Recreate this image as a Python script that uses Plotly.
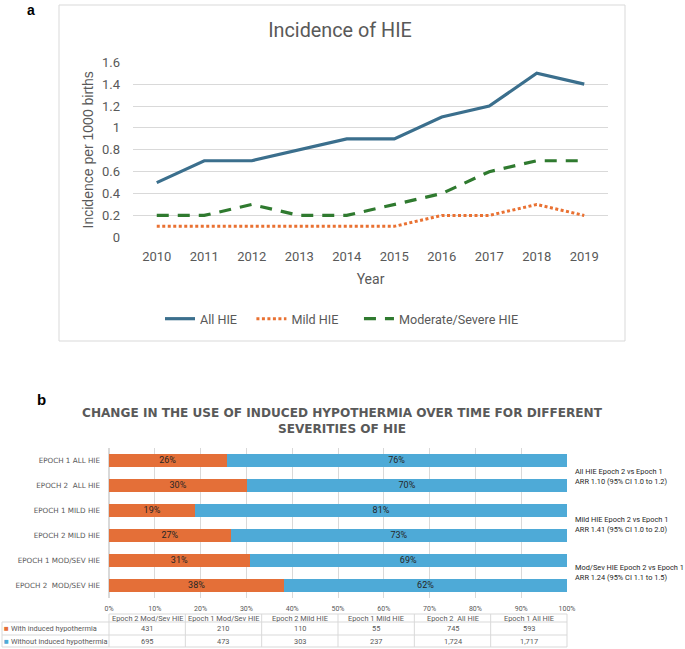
import plotly.graph_objects as go

# ---------------- data ----------------
years = [2010, 2011, 2012, 2013, 2014, 2015, 2016, 2017, 2018, 2019]
all_hie = [0.5, 0.7, 0.7, 0.8, 0.9, 0.9, 1.1, 1.2, 1.5, 1.4]
mild_hie = [0.1, 0.1, 0.1, 0.1, 0.1, 0.1, 0.2, 0.2, 0.3, 0.2]
modsev_hie = [0.2, 0.2, 0.3, 0.2, 0.2, 0.3, 0.4, 0.6, 0.7, 0.7]
y_ticks = [0, 0.2, 0.4, 0.6, 0.8, 1.0, 1.2, 1.4, 1.6]
y_tick_text = ["0", "0.2", "0.4", "0.6", "0.8", "1", "1.2", "1.4", "1.6"]

groups = ["EPOCH 1 ALL HIE", "EPOCH 2\u00a0\u00a0ALL HIE", "EPOCH 1 MILD HIE",
          "EPOCH 2 MILD HIE", "EPOCH 1 MOD/SEV HIE", "EPOCH 2\u00a0\u00a0MOD/SEV HIE"]
with_ih = [593, 745, 55, 110, 210, 431]
without_ih = [1717, 1724, 237, 303, 473, 695]
with_labels = ["26%", "30%", "19%", "27%", "31%", "38%"]
without_labels = ["76%", "70%", "81%", "73%", "69%", "62%"]

table_cols = ["Epoch 2 Mod/Sev HIE", "Epoch 1 Mod/Sev HIE", "Epoch 2 Mild HIE",
              "Epoch 1 Mild HIE", "Epoch 2\u00a0\u00a0All HIE", "Epoch 1 All HIE"]
table_rows = ["With induced hypothermia", "Without induced hypothermia"]
table_with = ["431", "210", "110", "55", "745", "593"]
table_without = ["695", "473", "303", "237", "1,724", "1,717"]

arr_notes = [
    "All HIE Epoch 2 vs Epoch 1<br>ARR 1.10 (95% CI 1.0 to 1.2)",
    "Mild HIE Epoch 2 vs Epoch 1<br>ARR 1.41 (95% CI 1.0 to 2.0)",
    "Mod/Sev HIE Epoch 2 vs Epoch 1<br>ARR 1.24 (95% CI 1.1 to 1.5)",
]

# ---------------- styles ----------------
W, H = 685, 649
GRAY = "#595959"
GRID = "#d9d9d9"
MAIN = "Roboto, Liberation Sans, sans-serif"
SANS = "Liberation Sans, Arial, sans-serif"
C_ALL = "#3B6F8D"
C_MILD = "#E97132"
C_MOD = "#2F7A2F"
C_WITH = "#E46F38"
C_WITHOUT = "#4EAAD7"

BAR_X0, BAR_X1 = 109, 567          # pixel extent of the bar plot (0% .. 100%)


def px(x):
    return x / W


def py(y):
    return 1 - y / H


fig = go.Figure()

# top line chart
fig.add_trace(go.Scatter(x=years, y=all_hie, mode="lines", name="All HIE\u00a0\u00a0\u00a0",
                         line=dict(color=C_ALL, width=3.2), xaxis="x", yaxis="y"))
fig.add_trace(go.Scatter(x=years, y=mild_hie, mode="lines", name="Mild HIE\u00a0\u00a0\u00a0\u00a0\u00a0",
                         line=dict(color=C_MILD, width=3, dash="3px,2.5px"), xaxis="x", yaxis="y"))
fig.add_trace(go.Scatter(x=years, y=modsev_hie, mode="lines", name="Moderate/Severe HIE",
                         line=dict(color=C_MOD, width=3.2, dash="12px,9px"), xaxis="x", yaxis="y"))

# bottom stacked bar chart
for vals, labels, color, name in [(with_ih, with_labels, C_WITH, table_rows[0]),
                                  (without_ih, without_labels, C_WITHOUT, table_rows[1])]:
    fig.add_trace(go.Bar(y=groups, x=vals, orientation="h", name=name,
                         marker=dict(color=color, line=dict(width=0)), text=labels,
                         textposition="inside", insidetextanchor="middle", constraintext="none",
                         textfont=dict(family=MAIN, size=9, color="#262626"),
                         showlegend=False, xaxis="x2", yaxis="y2", hoverinfo="skip"))

fig.update_layout(
    width=W, height=H,
    margin=dict(l=0, r=0, t=0, b=0),
    paper_bgcolor="white", plot_bgcolor="white",
    barmode="stack", barnorm="percent", bargap=0.48,
    title=dict(text="Incidence of HIE", x=px(340), y=py(30), xanchor="center", yanchor="middle",
               font=dict(family=MAIN, size=19.8, color=GRAY)),
    showlegend=True,
    legend=dict(orientation="h", traceorder="normal", x=px(342), y=py(319),
                xanchor="center", yanchor="middle",
                font=dict(family=MAIN, size=12.6, color=GRAY), bgcolor="rgba(0,0,0,0)"),
    xaxis=dict(domain=[px(133), px(608)], range=[2009.5, 2019.5], tickvals=years,
               showgrid=False, zeroline=False, showline=False, ticks="",
               tickfont=dict(family=MAIN, size=13, color=GRAY), ticklabelstandoff=10,
               title=dict(text="Year", font=dict(family=MAIN, size=14, color=GRAY), standoff=10),
               automargin=False, fixedrange=True),
    yaxis=dict(domain=[py(237.3), py(62.3)], range=[0, 1.6], tickvals=y_ticks, ticktext=y_tick_text,
               showgrid=True, gridcolor=GRID, gridwidth=1, zeroline=False, showline=False, ticks="",
               tickfont=dict(family=MAIN, size=13, color=GRAY), ticklabelstandoff=12,
               title=dict(text="Incidence per 1000 births", font=dict(family=SANS, size=14, color=GRAY),
                          standoff=5),
               automargin=False, fixedrange=True),
    xaxis2=dict(domain=[px(BAR_X0), px(BAR_X1)], range=[0, 100], dtick=10, ticksuffix="%",
                showgrid=True, gridcolor=GRID, zeroline=True, zerolinecolor=GRID, showline=False,
                ticks="", tickfont=dict(family=MAIN, size=7, color=GRAY), ticklabelstandoff=5,
                anchor="y2", automargin=False, fixedrange=True),
    yaxis2=dict(domain=[py(597.5), py(447.5)], type="category", categoryorder="array",
                categoryarray=groups, range=[5.5, -0.5], showgrid=False, zeroline=False,
                showline=False, ticks="",
                tickfont=dict(family="DejaVu Sans, sans-serif", size=7.2, color=GRAY),
                ticklabelstandoff=8, anchor="x2", automargin=False, fixedrange=True),
)

# frame around the top chart
fig.add_shape(type="rect", xref="paper", yref="paper", x0=px(59), x1=px(625), y0=py(341), y1=py(5),
              line=dict(color=GRID, width=1), fillcolor="rgba(0,0,0,0)", layer="below")

# ---------------- data table under the bars ----------------
T_LEFT = 2
T_TOP, T_HDR, T_ROW1, T_BOT = 614, 622, 635, 647
ncol = len(table_cols)
col_w = (BAR_X1 - BAR_X0) / ncol
col_edges = [BAR_X0 + i * col_w for i in range(ncol + 1)]
tline = dict(color=GRID, width=1)


def hline(x0, x1, y):
    fig.add_shape(type="line", xref="paper", yref="paper", x0=px(x0), x1=px(x1),
                  y0=py(y), y1=py(y), line=tline)


def vline(x, y0, y1):
    fig.add_shape(type="line", xref="paper", yref="paper", x0=px(x), x1=px(x),
                  y0=py(y0), y1=py(y1), line=tline)


hline(BAR_X0, BAR_X1, T_TOP)
for yy in (T_HDR, T_ROW1, T_BOT):
    hline(T_LEFT, BAR_X1, yy)
vline(T_LEFT, T_HDR, T_BOT)
for xe in col_edges:
    vline(xe, T_TOP, T_BOT)


def cell_text(text, xc, yc, anchor="center"):
    fig.add_annotation(text=text, x=px(xc), y=py(yc), xref="paper", yref="paper", showarrow=False,
                       xanchor=anchor, yanchor="middle", font=dict(family=MAIN, size=7.4, color=GRAY))


hdr_y = (T_TOP + T_HDR) / 2
r1_y = (T_HDR + T_ROW1) / 2
r2_y = (T_ROW1 + T_BOT) / 2
for i, name in enumerate(table_cols):
    xc = (col_edges[i] + col_edges[i + 1]) / 2
    cell_text(name, xc, hdr_y)
    cell_text(table_with[i], xc, r1_y)
    cell_text(table_without[i], xc, r2_y)
for label, color, yc in zip(table_rows, [C_WITH, C_WITHOUT], [r1_y, r2_y]):
    fig.add_annotation(text="■", x=px(6), y=py(yc), xref="paper", yref="paper", showarrow=False,
                       xanchor="center", yanchor="middle", font=dict(family=SANS, size=8, color=color))
    cell_text(label, 9, yc, anchor="left")

# panel letters
fig.add_annotation(text="<b>a</b>", x=px(31), y=1, xref="paper", yref="paper", showarrow=False,
                   xanchor="center", yanchor="top", font=dict(family=SANS, size=14, color="black"))
fig.add_annotation(text="<b>b</b>", x=px(41), y=py(399), xref="paper", yref="paper", showarrow=False,
                   xanchor="center", yanchor="middle", font=dict(family=SANS, size=15, color="black"))

# bottom chart title
fig.add_annotation(text="<b>CHANGE IN THE USE OF INDUCED HYPOTHERMIA OVER TIME FOR DIFFERENT<br>SEVERITIES OF HIE</b>",
                   x=px(342), y=py(421), xref="paper", yref="paper", showarrow=False,
                   xanchor="center", yanchor="middle", align="center",
                   font=dict(family="DejaVu Sans, sans-serif", size=12.1, color=GRAY))

# ARR notes
for note, yc in zip(arr_notes, [476, 524, 572]):
    fig.add_annotation(text=note, x=px(573), y=py(yc), xref="paper", yref="paper", showarrow=False,
                       xanchor="left", yanchor="middle", align="left",
                       font=dict(family=MAIN, size=7.4, color="#262626"))

fig.write_html("out.html", config={"displayModeBar": False},
               post_script="document.body.style.margin='0px';")
